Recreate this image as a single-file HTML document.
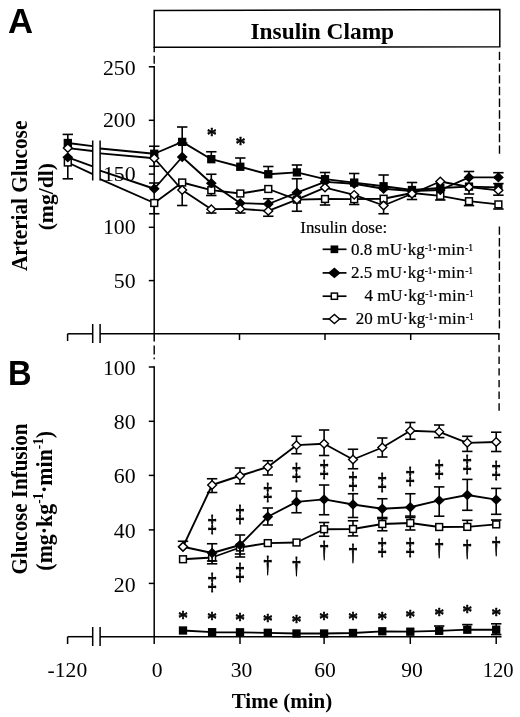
<!DOCTYPE html>
<html lang="en"><head><meta charset="utf-8"><title>Insulin Clamp figure</title>
<style>html,body{margin:0;padding:0;background:#fff}body{width:520px;height:717px;overflow:hidden}svg text{fill:#000}</style>
</head><body>
<svg width="520" height="717" viewBox="0 0 520 717" style="display:block">
<rect width="520" height="717" fill="#fff"/>
<path d="M154.2 10.6L499.8 9.6L499.8 46.8L154.2 47.3Z" fill="#fff" stroke="#000" stroke-width="1.5"/>
<text x="322.3" y="39.0" text-anchor="middle" font-family='"Liberation Serif", "DejaVu Serif", serif' font-weight="bold" font-size="23.4">Insulin Clamp</text>
<line x1="154.20" y1="47.00" x2="154.20" y2="52.30" stroke="#000" stroke-width="1.4" />
<line x1="154.20" y1="55.80" x2="154.20" y2="63.80" stroke="#000" stroke-width="1.4" />
<line x1="499.50" y1="51.70" x2="499.50" y2="154.60" stroke="#000" stroke-width="1.4" stroke-dasharray="8.4 3.32"/>
<line x1="499.40" y1="226.40" x2="499.40" y2="328.80" stroke="#000" stroke-width="1.4" stroke-dasharray="8.4 3.32"/>
<line x1="499.10" y1="344.80" x2="499.10" y2="410.80" stroke="#000" stroke-width="1.4" stroke-dasharray="7.4 4.3"/>
<line x1="154.20" y1="334.00" x2="154.20" y2="341.50" stroke="#000" stroke-width="1.5" />
<line x1="154.20" y1="345.40" x2="154.20" y2="354.60" stroke="#000" stroke-width="1.4" />
<line x1="154.20" y1="357.50" x2="154.20" y2="359.20" stroke="#000" stroke-width="1.4" />
<line x1="154.20" y1="66.10" x2="154.20" y2="333.80" stroke="#000" stroke-width="1.5" />
<line x1="148.80" y1="66.80" x2="154.20" y2="66.80" stroke="#000" stroke-width="1.5" />
<text transform="translate(135.6,74.8) scale(1.09,1)" text-anchor="end" font-family='"Liberation Serif", "DejaVu Serif", serif' font-size="20">250</text>
<line x1="148.80" y1="120.30" x2="154.20" y2="120.30" stroke="#000" stroke-width="1.5" />
<text transform="translate(135.6,127.0) scale(1.09,1)" text-anchor="end" font-family='"Liberation Serif", "DejaVu Serif", serif' font-size="20">200</text>
<line x1="148.80" y1="174.10" x2="154.20" y2="174.10" stroke="#000" stroke-width="1.5" />
<text transform="translate(135.6,180.6) scale(1.09,1)" text-anchor="end" font-family='"Liberation Serif", "DejaVu Serif", serif' font-size="20">150</text>
<line x1="148.80" y1="227.30" x2="154.20" y2="227.30" stroke="#000" stroke-width="1.5" />
<text transform="translate(135.6,233.7) scale(1.09,1)" text-anchor="end" font-family='"Liberation Serif", "DejaVu Serif", serif' font-size="20">100</text>
<line x1="148.80" y1="280.60" x2="154.20" y2="280.60" stroke="#000" stroke-width="1.5" />
<text transform="translate(135.6,287.6) scale(1.09,1)" text-anchor="end" font-family='"Liberation Serif", "DejaVu Serif", serif' font-size="20">50</text>
<line x1="67.60" y1="333.80" x2="92.70" y2="333.80" stroke="#000" stroke-width="1.5" />
<line x1="100.10" y1="333.80" x2="499.60" y2="333.80" stroke="#000" stroke-width="1.5" />
<line x1="67.60" y1="333.80" x2="67.60" y2="341.00" stroke="#000" stroke-width="1.5" />
<line x1="92.70" y1="324.00" x2="92.70" y2="343.00" stroke="#000" stroke-width="1.5" />
<line x1="100.10" y1="324.00" x2="100.10" y2="343.00" stroke="#000" stroke-width="1.5" />
<line x1="239.50" y1="333.80" x2="239.50" y2="340.00" stroke="#000" stroke-width="1.5" />
<line x1="325.00" y1="333.80" x2="325.00" y2="340.00" stroke="#000" stroke-width="1.5" />
<line x1="410.70" y1="333.80" x2="410.70" y2="340.00" stroke="#000" stroke-width="1.5" />
<line x1="498.90" y1="333.80" x2="498.90" y2="340.00" stroke="#000" stroke-width="1.5" />
<line x1="154.20" y1="366.30" x2="154.20" y2="636.70" stroke="#000" stroke-width="1.5" />
<line x1="148.80" y1="367.00" x2="154.20" y2="367.00" stroke="#000" stroke-width="1.5" />
<text transform="translate(135.6,374.8) scale(1.09,1)" text-anchor="end" font-family='"Liberation Serif", "DejaVu Serif", serif' font-size="20">100</text>
<line x1="148.80" y1="421.30" x2="154.20" y2="421.30" stroke="#000" stroke-width="1.5" />
<text transform="translate(135.6,428.7) scale(1.09,1)" text-anchor="end" font-family='"Liberation Serif", "DejaVu Serif", serif' font-size="20">80</text>
<line x1="148.80" y1="475.40" x2="154.20" y2="475.40" stroke="#000" stroke-width="1.5" />
<text transform="translate(135.6,483.0) scale(1.09,1)" text-anchor="end" font-family='"Liberation Serif", "DejaVu Serif", serif' font-size="20">60</text>
<line x1="148.80" y1="529.90" x2="154.20" y2="529.90" stroke="#000" stroke-width="1.5" />
<text transform="translate(135.6,537.6) scale(1.09,1)" text-anchor="end" font-family='"Liberation Serif", "DejaVu Serif", serif' font-size="20">40</text>
<line x1="148.80" y1="583.40" x2="154.20" y2="583.40" stroke="#000" stroke-width="1.5" />
<text transform="translate(135.6,592.1) scale(1.09,1)" text-anchor="end" font-family='"Liberation Serif", "DejaVu Serif", serif' font-size="20">20</text>
<line x1="67.60" y1="636.70" x2="92.70" y2="636.70" stroke="#000" stroke-width="1.5" />
<line x1="100.10" y1="636.70" x2="501.50" y2="636.70" stroke="#000" stroke-width="1.5" />
<line x1="67.60" y1="636.70" x2="67.60" y2="644.00" stroke="#000" stroke-width="1.5" />
<line x1="92.70" y1="627.00" x2="92.70" y2="646.00" stroke="#000" stroke-width="1.5" />
<line x1="100.10" y1="627.00" x2="100.10" y2="646.00" stroke="#000" stroke-width="1.5" />
<line x1="154.20" y1="636.70" x2="154.20" y2="644.00" stroke="#000" stroke-width="1.5" />
<line x1="240.00" y1="636.70" x2="240.00" y2="644.00" stroke="#000" stroke-width="1.5" />
<line x1="324.10" y1="636.70" x2="324.10" y2="644.00" stroke="#000" stroke-width="1.5" />
<line x1="410.30" y1="636.70" x2="410.30" y2="644.00" stroke="#000" stroke-width="1.5" />
<line x1="496.20" y1="636.70" x2="496.20" y2="644.00" stroke="#000" stroke-width="1.5" />
<text transform="translate(67.4,677.2) scale(1.08,1)" text-anchor="middle" font-family='"Liberation Serif", "DejaVu Serif", serif' font-size="20">-120</text>
<text transform="translate(157.2,677.2) scale(1.08,1)" text-anchor="middle" font-family='"Liberation Serif", "DejaVu Serif", serif' font-size="20">0</text>
<text transform="translate(241.6,677.2) scale(1.08,1)" text-anchor="middle" font-family='"Liberation Serif", "DejaVu Serif", serif' font-size="20">30</text>
<text transform="translate(325.1,677.2) scale(1.08,1)" text-anchor="middle" font-family='"Liberation Serif", "DejaVu Serif", serif' font-size="20">60</text>
<text transform="translate(412.1,677.2) scale(1.08,1)" text-anchor="middle" font-family='"Liberation Serif", "DejaVu Serif", serif' font-size="20">90</text>
<text transform="translate(498.2,677.2) scale(1.03,1)" text-anchor="middle" font-family='"Liberation Serif", "DejaVu Serif", serif' font-size="20">120</text>
<text x="282" y="707.5" text-anchor="middle" font-family='"Liberation Serif", "DejaVu Serif", serif' font-weight="bold" font-size="21">Time (min)</text>
<text transform="translate(27,195.9) rotate(-90) scale(1.012,1.07)" text-anchor="middle" font-family='"Liberation Serif", "DejaVu Serif", serif' font-weight="bold" font-size="21">Arterial Glucose</text>
<text transform="translate(52.7,196.7) rotate(-90) scale(1.03,1.02)" text-anchor="middle" font-family='"Liberation Serif", "DejaVu Serif", serif' font-weight="bold" font-size="21">(mg/dl)</text>
<text transform="translate(27,499) rotate(-90) scale(1,1.07)" text-anchor="middle" font-family='"Liberation Serif", "DejaVu Serif", serif' font-weight="bold" font-size="21">Glucose Infusion</text>
<text transform="translate(52,500.8) rotate(-90) scale(1.012,1.05)" text-anchor="middle" font-family='"Liberation Serif", "DejaVu Serif", serif' font-weight="bold" font-size="21.6">(mg·kg<tspan font-size="13" dy="-8.4">-1</tspan><tspan dy="8.4">·min</tspan><tspan font-size="13" dy="-8.4">-1</tspan><tspan dy="8.4">)</tspan></text>
<text transform="translate(8.0,33.3) scale(1.02,1.04)" font-family='"Liberation Sans", "DejaVu Sans", sans-serif' font-weight="bold" font-size="34">A</text>
<text transform="translate(7.9,384.8) scale(0.96,1.02)" font-family='"Liberation Sans", "DejaVu Sans", sans-serif' font-weight="bold" font-size="34">B</text>
<line x1="67.80" y1="143.00" x2="92.70" y2="146.10" stroke="#000" stroke-width="1.85" />
<line x1="100.10" y1="148.52" x2="154.25" y2="153.75" stroke="#000" stroke-width="1.85" />
<polyline points="154.25,153.75 182.20,141.90 211.30,159.20 240.30,166.75 268.30,174.25 296.90,172.40 325.00,179.20 354.20,182.60 383.60,186.25 412.00,190.00 440.30,188.00 469.00,186.60 498.40,187.30" fill="none" stroke="#000" stroke-width="1.85" stroke-linejoin="round"/>
<line x1="67.80" y1="143.00" x2="67.80" y2="134.40" stroke="#000" stroke-width="1.6" />
<line x1="62.60" y1="134.40" x2="73.00" y2="134.40" stroke="#000" stroke-width="1.6" />
<line x1="154.25" y1="153.75" x2="154.25" y2="146.25" stroke="#000" stroke-width="1.6" />
<line x1="149.05" y1="146.25" x2="159.45" y2="146.25" stroke="#000" stroke-width="1.6" />
<line x1="182.20" y1="141.90" x2="182.20" y2="127.00" stroke="#000" stroke-width="1.6" />
<line x1="177.00" y1="127.00" x2="187.40" y2="127.00" stroke="#000" stroke-width="1.6" />
<line x1="211.30" y1="159.20" x2="211.30" y2="151.75" stroke="#000" stroke-width="1.6" />
<line x1="206.10" y1="151.75" x2="216.50" y2="151.75" stroke="#000" stroke-width="1.6" />
<line x1="240.30" y1="166.75" x2="240.30" y2="158.00" stroke="#000" stroke-width="1.6" />
<line x1="235.10" y1="158.00" x2="245.50" y2="158.00" stroke="#000" stroke-width="1.6" />
<line x1="268.30" y1="174.25" x2="268.30" y2="166.50" stroke="#000" stroke-width="1.6" />
<line x1="263.10" y1="166.50" x2="273.50" y2="166.50" stroke="#000" stroke-width="1.6" />
<line x1="296.90" y1="172.40" x2="296.90" y2="165.00" stroke="#000" stroke-width="1.6" />
<line x1="291.70" y1="165.00" x2="302.10" y2="165.00" stroke="#000" stroke-width="1.6" />
<line x1="325.00" y1="179.20" x2="325.00" y2="172.50" stroke="#000" stroke-width="1.6" />
<line x1="319.80" y1="172.50" x2="330.20" y2="172.50" stroke="#000" stroke-width="1.6" />
<line x1="354.20" y1="182.60" x2="354.20" y2="173.50" stroke="#000" stroke-width="1.6" />
<line x1="349.00" y1="173.50" x2="359.40" y2="173.50" stroke="#000" stroke-width="1.6" />
<line x1="383.60" y1="186.25" x2="383.60" y2="175.00" stroke="#000" stroke-width="1.6" />
<line x1="378.40" y1="175.00" x2="388.80" y2="175.00" stroke="#000" stroke-width="1.6" />
<line x1="412.00" y1="190.00" x2="412.00" y2="182.50" stroke="#000" stroke-width="1.6" />
<line x1="406.80" y1="182.50" x2="417.20" y2="182.50" stroke="#000" stroke-width="1.6" />
<rect x="64.40" y="139.60" width="6.80" height="6.80" fill="#000" stroke="#000" stroke-width="1.5"/>
<rect x="150.85" y="150.35" width="6.80" height="6.80" fill="#000" stroke="#000" stroke-width="1.5"/>
<rect x="178.80" y="138.50" width="6.80" height="6.80" fill="#000" stroke="#000" stroke-width="1.5"/>
<rect x="207.90" y="155.80" width="6.80" height="6.80" fill="#000" stroke="#000" stroke-width="1.5"/>
<rect x="236.90" y="163.35" width="6.80" height="6.80" fill="#000" stroke="#000" stroke-width="1.5"/>
<rect x="264.90" y="170.85" width="6.80" height="6.80" fill="#000" stroke="#000" stroke-width="1.5"/>
<rect x="293.50" y="169.00" width="6.80" height="6.80" fill="#000" stroke="#000" stroke-width="1.5"/>
<rect x="321.60" y="175.80" width="6.80" height="6.80" fill="#000" stroke="#000" stroke-width="1.5"/>
<rect x="350.80" y="179.20" width="6.80" height="6.80" fill="#000" stroke="#000" stroke-width="1.5"/>
<rect x="380.20" y="182.85" width="6.80" height="6.80" fill="#000" stroke="#000" stroke-width="1.5"/>
<rect x="408.60" y="186.60" width="6.80" height="6.80" fill="#000" stroke="#000" stroke-width="1.5"/>
<rect x="436.90" y="184.60" width="6.80" height="6.80" fill="#000" stroke="#000" stroke-width="1.5"/>
<rect x="465.60" y="183.20" width="6.80" height="6.80" fill="#000" stroke="#000" stroke-width="1.5"/>
<rect x="495.00" y="183.90" width="6.80" height="6.80" fill="#000" stroke="#000" stroke-width="1.5"/>
<line x1="67.80" y1="162.50" x2="92.70" y2="174.17" stroke="#000" stroke-width="1.85" />
<line x1="100.10" y1="179.13" x2="154.25" y2="203.00" stroke="#000" stroke-width="1.85" />
<polyline points="154.25,203.00 182.20,182.50 211.30,190.20 240.30,193.50 268.30,189.00 296.90,199.60 325.00,199.00 354.20,199.20 383.60,198.75 412.00,193.00 440.30,195.80 469.00,201.20 498.40,204.40" fill="none" stroke="#000" stroke-width="1.85" stroke-linejoin="round"/>
<line x1="67.80" y1="162.50" x2="67.80" y2="178.80" stroke="#000" stroke-width="1.6" />
<line x1="62.60" y1="178.80" x2="73.00" y2="178.80" stroke="#000" stroke-width="1.6" />
<line x1="154.25" y1="203.00" x2="154.25" y2="213.75" stroke="#000" stroke-width="1.6" />
<line x1="149.05" y1="213.75" x2="159.45" y2="213.75" stroke="#000" stroke-width="1.6" />
<line x1="211.30" y1="190.20" x2="211.30" y2="195.50" stroke="#000" stroke-width="1.6" />
<line x1="206.10" y1="195.50" x2="216.50" y2="195.50" stroke="#000" stroke-width="1.6" />
<line x1="325.00" y1="199.00" x2="325.00" y2="205.00" stroke="#000" stroke-width="1.6" />
<line x1="319.80" y1="205.00" x2="330.20" y2="205.00" stroke="#000" stroke-width="1.6" />
<line x1="354.20" y1="199.20" x2="354.20" y2="204.50" stroke="#000" stroke-width="1.6" />
<line x1="349.00" y1="204.50" x2="359.40" y2="204.50" stroke="#000" stroke-width="1.6" />
<line x1="440.30" y1="195.80" x2="440.30" y2="200.00" stroke="#000" stroke-width="1.6" />
<line x1="435.10" y1="200.00" x2="445.50" y2="200.00" stroke="#000" stroke-width="1.6" />
<line x1="469.00" y1="201.20" x2="469.00" y2="205.60" stroke="#000" stroke-width="1.6" />
<line x1="463.80" y1="205.60" x2="474.20" y2="205.60" stroke="#000" stroke-width="1.6" />
<line x1="498.40" y1="204.40" x2="498.40" y2="209.00" stroke="#000" stroke-width="1.6" />
<line x1="493.20" y1="209.00" x2="503.60" y2="209.00" stroke="#000" stroke-width="1.6" />
<rect x="64.40" y="159.10" width="6.80" height="6.80" fill="#fff" stroke="#000" stroke-width="1.5"/>
<rect x="150.85" y="199.60" width="6.80" height="6.80" fill="#fff" stroke="#000" stroke-width="1.5"/>
<rect x="178.80" y="179.10" width="6.80" height="6.80" fill="#fff" stroke="#000" stroke-width="1.5"/>
<rect x="207.90" y="186.80" width="6.80" height="6.80" fill="#fff" stroke="#000" stroke-width="1.5"/>
<rect x="236.90" y="190.10" width="6.80" height="6.80" fill="#fff" stroke="#000" stroke-width="1.5"/>
<rect x="264.90" y="185.60" width="6.80" height="6.80" fill="#fff" stroke="#000" stroke-width="1.5"/>
<rect x="293.50" y="196.20" width="6.80" height="6.80" fill="#fff" stroke="#000" stroke-width="1.5"/>
<rect x="321.60" y="195.60" width="6.80" height="6.80" fill="#fff" stroke="#000" stroke-width="1.5"/>
<rect x="350.80" y="195.80" width="6.80" height="6.80" fill="#fff" stroke="#000" stroke-width="1.5"/>
<rect x="380.20" y="195.35" width="6.80" height="6.80" fill="#fff" stroke="#000" stroke-width="1.5"/>
<rect x="408.60" y="189.60" width="6.80" height="6.80" fill="#fff" stroke="#000" stroke-width="1.5"/>
<rect x="436.90" y="192.40" width="6.80" height="6.80" fill="#fff" stroke="#000" stroke-width="1.5"/>
<rect x="465.60" y="197.80" width="6.80" height="6.80" fill="#fff" stroke="#000" stroke-width="1.5"/>
<rect x="495.00" y="201.00" width="6.80" height="6.80" fill="#fff" stroke="#000" stroke-width="1.5"/>
<line x1="67.80" y1="157.30" x2="92.70" y2="166.36" stroke="#000" stroke-width="1.85" />
<line x1="100.10" y1="170.55" x2="154.25" y2="188.75" stroke="#000" stroke-width="1.85" />
<polyline points="154.25,188.75 182.20,157.00 211.30,183.20 240.30,203.20 268.30,204.00 296.90,192.60 325.00,181.80 354.20,183.75 383.60,188.75 412.00,191.00 440.30,190.00 469.00,177.40 498.40,177.40" fill="none" stroke="#000" stroke-width="1.85" stroke-linejoin="round"/>
<line x1="154.25" y1="188.75" x2="154.25" y2="183.00" stroke="#000" stroke-width="1.6" />
<line x1="149.05" y1="183.00" x2="159.45" y2="183.00" stroke="#000" stroke-width="1.6" />
<line x1="182.20" y1="157.00" x2="182.20" y2="143.00" stroke="#000" stroke-width="1.6" />
<line x1="177.00" y1="143.00" x2="187.40" y2="143.00" stroke="#000" stroke-width="1.6" />
<line x1="211.30" y1="183.20" x2="211.30" y2="174.25" stroke="#000" stroke-width="1.6" />
<line x1="206.10" y1="174.25" x2="216.50" y2="174.25" stroke="#000" stroke-width="1.6" />
<line x1="268.30" y1="204.00" x2="268.30" y2="198.75" stroke="#000" stroke-width="1.6" />
<line x1="263.10" y1="198.75" x2="273.50" y2="198.75" stroke="#000" stroke-width="1.6" />
<line x1="296.90" y1="192.60" x2="296.90" y2="178.75" stroke="#000" stroke-width="1.6" />
<line x1="291.70" y1="178.75" x2="302.10" y2="178.75" stroke="#000" stroke-width="1.6" />
<line x1="469.00" y1="177.40" x2="469.00" y2="171.50" stroke="#000" stroke-width="1.6" />
<line x1="463.80" y1="171.50" x2="474.20" y2="171.50" stroke="#000" stroke-width="1.6" />
<line x1="498.40" y1="177.40" x2="498.40" y2="172.70" stroke="#000" stroke-width="1.6" />
<line x1="493.20" y1="172.70" x2="503.60" y2="172.70" stroke="#000" stroke-width="1.6" />
<path d="M63.40 157.30L67.80 153.10L72.20 157.30L67.80 161.50Z" fill="#000" stroke="#000" stroke-width="1.4" stroke-linejoin="miter"/>
<path d="M149.85 188.75L154.25 184.55L158.65 188.75L154.25 192.95Z" fill="#000" stroke="#000" stroke-width="1.4" stroke-linejoin="miter"/>
<path d="M177.80 157.00L182.20 152.80L186.60 157.00L182.20 161.20Z" fill="#000" stroke="#000" stroke-width="1.4" stroke-linejoin="miter"/>
<path d="M206.90 183.20L211.30 179.00L215.70 183.20L211.30 187.40Z" fill="#000" stroke="#000" stroke-width="1.4" stroke-linejoin="miter"/>
<path d="M235.90 203.20L240.30 199.00L244.70 203.20L240.30 207.40Z" fill="#000" stroke="#000" stroke-width="1.4" stroke-linejoin="miter"/>
<path d="M263.90 204.00L268.30 199.80L272.70 204.00L268.30 208.20Z" fill="#000" stroke="#000" stroke-width="1.4" stroke-linejoin="miter"/>
<path d="M292.50 192.60L296.90 188.40L301.30 192.60L296.90 196.80Z" fill="#000" stroke="#000" stroke-width="1.4" stroke-linejoin="miter"/>
<path d="M320.60 181.80L325.00 177.60L329.40 181.80L325.00 186.00Z" fill="#000" stroke="#000" stroke-width="1.4" stroke-linejoin="miter"/>
<path d="M349.80 183.75L354.20 179.55L358.60 183.75L354.20 187.95Z" fill="#000" stroke="#000" stroke-width="1.4" stroke-linejoin="miter"/>
<path d="M379.20 188.75L383.60 184.55L388.00 188.75L383.60 192.95Z" fill="#000" stroke="#000" stroke-width="1.4" stroke-linejoin="miter"/>
<path d="M407.60 191.00L412.00 186.80L416.40 191.00L412.00 195.20Z" fill="#000" stroke="#000" stroke-width="1.4" stroke-linejoin="miter"/>
<path d="M435.90 190.00L440.30 185.80L444.70 190.00L440.30 194.20Z" fill="#000" stroke="#000" stroke-width="1.4" stroke-linejoin="miter"/>
<path d="M464.60 177.40L469.00 173.20L473.40 177.40L469.00 181.60Z" fill="#000" stroke="#000" stroke-width="1.4" stroke-linejoin="miter"/>
<path d="M494.00 177.40L498.40 173.20L502.80 177.40L498.40 181.60Z" fill="#000" stroke="#000" stroke-width="1.4" stroke-linejoin="miter"/>
<line x1="67.80" y1="148.10" x2="92.70" y2="151.02" stroke="#000" stroke-width="1.85" />
<line x1="100.10" y1="153.39" x2="154.25" y2="158.25" stroke="#000" stroke-width="1.85" />
<polyline points="154.25,158.25 182.20,190.00 211.30,209.20 240.30,208.90 268.30,210.90 296.90,199.60 325.00,187.60 354.20,194.80 383.60,205.50 412.00,193.75 440.30,181.50 469.00,187.00 498.40,190.30" fill="none" stroke="#000" stroke-width="1.85" stroke-linejoin="round"/>
<line x1="154.25" y1="158.25" x2="154.25" y2="166.25" stroke="#000" stroke-width="1.6" />
<line x1="149.05" y1="166.25" x2="159.45" y2="166.25" stroke="#000" stroke-width="1.6" />
<line x1="182.20" y1="190.00" x2="182.20" y2="205.50" stroke="#000" stroke-width="1.6" />
<line x1="177.00" y1="205.50" x2="187.40" y2="205.50" stroke="#000" stroke-width="1.6" />
<line x1="211.30" y1="209.20" x2="211.30" y2="213.00" stroke="#000" stroke-width="1.6" />
<line x1="206.10" y1="213.00" x2="216.50" y2="213.00" stroke="#000" stroke-width="1.6" />
<line x1="240.30" y1="208.90" x2="240.30" y2="213.00" stroke="#000" stroke-width="1.6" />
<line x1="235.10" y1="213.00" x2="245.50" y2="213.00" stroke="#000" stroke-width="1.6" />
<line x1="268.30" y1="210.90" x2="268.30" y2="216.25" stroke="#000" stroke-width="1.6" />
<line x1="263.10" y1="216.25" x2="273.50" y2="216.25" stroke="#000" stroke-width="1.6" />
<line x1="296.90" y1="199.60" x2="296.90" y2="211.25" stroke="#000" stroke-width="1.6" />
<line x1="291.70" y1="211.25" x2="302.10" y2="211.25" stroke="#000" stroke-width="1.6" />
<line x1="383.60" y1="205.50" x2="383.60" y2="213.75" stroke="#000" stroke-width="1.6" />
<line x1="378.40" y1="213.75" x2="388.80" y2="213.75" stroke="#000" stroke-width="1.6" />
<line x1="412.00" y1="193.75" x2="412.00" y2="199.50" stroke="#000" stroke-width="1.6" />
<line x1="406.80" y1="199.50" x2="417.20" y2="199.50" stroke="#000" stroke-width="1.6" />
<line x1="469.00" y1="187.00" x2="469.00" y2="194.00" stroke="#000" stroke-width="1.6" />
<line x1="463.80" y1="194.00" x2="474.20" y2="194.00" stroke="#000" stroke-width="1.6" />
<line x1="498.40" y1="190.30" x2="498.40" y2="183.60" stroke="#000" stroke-width="1.6" />
<line x1="493.20" y1="183.60" x2="503.60" y2="183.60" stroke="#000" stroke-width="1.6" />
<line x1="498.40" y1="190.30" x2="498.40" y2="195.20" stroke="#000" stroke-width="1.6" />
<line x1="493.20" y1="195.20" x2="503.60" y2="195.20" stroke="#000" stroke-width="1.6" />
<path d="M63.40 148.10L67.80 143.90L72.20 148.10L67.80 152.30Z" fill="#fff" stroke="#000" stroke-width="1.4" stroke-linejoin="miter"/>
<path d="M149.85 158.25L154.25 154.05L158.65 158.25L154.25 162.45Z" fill="#fff" stroke="#000" stroke-width="1.4" stroke-linejoin="miter"/>
<path d="M177.80 190.00L182.20 185.80L186.60 190.00L182.20 194.20Z" fill="#fff" stroke="#000" stroke-width="1.4" stroke-linejoin="miter"/>
<path d="M206.90 209.20L211.30 205.00L215.70 209.20L211.30 213.40Z" fill="#fff" stroke="#000" stroke-width="1.4" stroke-linejoin="miter"/>
<path d="M235.90 208.90L240.30 204.70L244.70 208.90L240.30 213.10Z" fill="#fff" stroke="#000" stroke-width="1.4" stroke-linejoin="miter"/>
<path d="M263.90 210.90L268.30 206.70L272.70 210.90L268.30 215.10Z" fill="#fff" stroke="#000" stroke-width="1.4" stroke-linejoin="miter"/>
<path d="M292.50 199.60L296.90 195.40L301.30 199.60L296.90 203.80Z" fill="#fff" stroke="#000" stroke-width="1.4" stroke-linejoin="miter"/>
<path d="M320.60 187.60L325.00 183.40L329.40 187.60L325.00 191.80Z" fill="#fff" stroke="#000" stroke-width="1.4" stroke-linejoin="miter"/>
<path d="M349.80 194.80L354.20 190.60L358.60 194.80L354.20 199.00Z" fill="#fff" stroke="#000" stroke-width="1.4" stroke-linejoin="miter"/>
<path d="M379.20 205.50L383.60 201.30L388.00 205.50L383.60 209.70Z" fill="#fff" stroke="#000" stroke-width="1.4" stroke-linejoin="miter"/>
<path d="M407.60 193.75L412.00 189.55L416.40 193.75L412.00 197.95Z" fill="#fff" stroke="#000" stroke-width="1.4" stroke-linejoin="miter"/>
<path d="M435.90 181.50L440.30 177.30L444.70 181.50L440.30 185.70Z" fill="#fff" stroke="#000" stroke-width="1.4" stroke-linejoin="miter"/>
<path d="M464.60 187.00L469.00 182.80L473.40 187.00L469.00 191.20Z" fill="#fff" stroke="#000" stroke-width="1.4" stroke-linejoin="miter"/>
<path d="M494.00 190.30L498.40 186.10L502.80 190.30L498.40 194.50Z" fill="#fff" stroke="#000" stroke-width="1.4" stroke-linejoin="miter"/>
<line x1="92.70" y1="140.50" x2="92.70" y2="180.50" stroke="#000" stroke-width="1.5" />
<line x1="100.10" y1="140.50" x2="100.10" y2="180.50" stroke="#000" stroke-width="1.5" />
<text x="211.8" y="142.1" text-anchor="middle" font-family='"Liberation Serif", "DejaVu Serif", serif' font-size="20" stroke="#000" stroke-width="0.7" stroke-linejoin="round">*</text>
<text x="240.5" y="150.8" text-anchor="middle" font-family='"Liberation Serif", "DejaVu Serif", serif' font-size="20" stroke="#000" stroke-width="0.7" stroke-linejoin="round">*</text>
<text x="300.3" y="233.3" font-family='"Liberation Serif", "DejaVu Serif", serif' font-size="16.9" stroke="#000" stroke-width="0.2">Insulin dose:</text>
<line x1="322.60" y1="249.30" x2="346.50" y2="249.30" stroke="#000" stroke-width="1.7" />
<rect x="331.30" y="246.20" width="6.20" height="6.20" fill="#000" stroke="#000" stroke-width="1.5"/>
<text x="351" y="255.0" font-family='"Liberation Serif", "DejaVu Serif", serif' font-size="17" stroke="#000" stroke-width="0.2">0.8 mU·kg<tspan font-size="9.6" dy="-4.2">-1</tspan><tspan dy="4.2" dx="-0.8" letter-spacing="0.3">·min</tspan><tspan font-size="9.6" dy="-4.2">-1</tspan></text>
<line x1="322.60" y1="272.90" x2="346.50" y2="272.90" stroke="#000" stroke-width="1.7" />
<path d="M329.20 272.90L334.40 268.40L339.60 272.90L334.40 277.40Z" fill="#000" stroke="#000" stroke-width="1.4" stroke-linejoin="miter"/>
<text x="351" y="277.9" font-family='"Liberation Serif", "DejaVu Serif", serif' font-size="17" stroke="#000" stroke-width="0.2">2.5 mU·kg<tspan font-size="9.6" dy="-4.2">-1</tspan><tspan dy="4.2" dx="-0.8" letter-spacing="0.3">·min</tspan><tspan font-size="9.6" dy="-4.2">-1</tspan></text>
<line x1="322.60" y1="296.20" x2="346.50" y2="296.20" stroke="#000" stroke-width="1.7" />
<rect x="331.30" y="293.10" width="6.20" height="6.20" fill="#fff" stroke="#000" stroke-width="1.5"/>
<text x="364.4" y="301.2" font-family='"Liberation Serif", "DejaVu Serif", serif' font-size="17" stroke="#000" stroke-width="0.2">4 mU·kg<tspan font-size="9.6" dy="-4.2">-1</tspan><tspan dy="4.2" dx="-0.8" letter-spacing="0.3">·min</tspan><tspan font-size="9.6" dy="-4.2">-1</tspan></text>
<line x1="322.60" y1="319.00" x2="346.50" y2="319.00" stroke="#000" stroke-width="1.7" />
<path d="M329.20 319.00L334.40 314.50L339.60 319.00L334.40 323.50Z" fill="#fff" stroke="#000" stroke-width="1.4" stroke-linejoin="miter"/>
<text x="355.8" y="324.0" font-family='"Liberation Serif", "DejaVu Serif", serif' font-size="17" stroke="#000" stroke-width="0.2">20 mU·kg<tspan font-size="9.6" dy="-4.2">-1</tspan><tspan dy="4.2" dx="-0.8" letter-spacing="0.3">·min</tspan><tspan font-size="9.6" dy="-4.2">-1</tspan></text>
<polyline points="183.00,630.50 212.10,632.20 240.00,632.30 267.80,632.80 296.50,633.50 324.10,633.50 353.00,633.00 382.30,631.30 410.30,631.70 439.20,630.80 467.30,629.70 496.20,629.70" fill="none" stroke="#000" stroke-width="1.85" stroke-linejoin="round"/>
<line x1="439.20" y1="630.80" x2="439.20" y2="626.00" stroke="#000" stroke-width="1.6" />
<line x1="434.00" y1="626.00" x2="444.40" y2="626.00" stroke="#000" stroke-width="1.6" />
<line x1="467.30" y1="629.70" x2="467.30" y2="624.60" stroke="#000" stroke-width="1.6" />
<line x1="462.10" y1="624.60" x2="472.50" y2="624.60" stroke="#000" stroke-width="1.6" />
<line x1="496.20" y1="629.70" x2="496.20" y2="623.80" stroke="#000" stroke-width="1.6" />
<line x1="491.00" y1="623.80" x2="501.40" y2="623.80" stroke="#000" stroke-width="1.6" />
<line x1="496.20" y1="629.70" x2="496.20" y2="634.60" stroke="#000" stroke-width="1.6" />
<line x1="491.00" y1="634.60" x2="501.40" y2="634.60" stroke="#000" stroke-width="1.6" />
<rect x="179.60" y="627.10" width="6.80" height="6.80" fill="#000" stroke="#000" stroke-width="1.5"/>
<rect x="208.70" y="628.80" width="6.80" height="6.80" fill="#000" stroke="#000" stroke-width="1.5"/>
<rect x="236.60" y="628.90" width="6.80" height="6.80" fill="#000" stroke="#000" stroke-width="1.5"/>
<rect x="264.40" y="629.40" width="6.80" height="6.80" fill="#000" stroke="#000" stroke-width="1.5"/>
<rect x="293.10" y="630.10" width="6.80" height="6.80" fill="#000" stroke="#000" stroke-width="1.5"/>
<rect x="320.70" y="630.10" width="6.80" height="6.80" fill="#000" stroke="#000" stroke-width="1.5"/>
<rect x="349.60" y="629.60" width="6.80" height="6.80" fill="#000" stroke="#000" stroke-width="1.5"/>
<rect x="378.90" y="627.90" width="6.80" height="6.80" fill="#000" stroke="#000" stroke-width="1.5"/>
<rect x="406.90" y="628.30" width="6.80" height="6.80" fill="#000" stroke="#000" stroke-width="1.5"/>
<rect x="435.80" y="627.40" width="6.80" height="6.80" fill="#000" stroke="#000" stroke-width="1.5"/>
<rect x="463.90" y="626.30" width="6.80" height="6.80" fill="#000" stroke="#000" stroke-width="1.5"/>
<rect x="492.80" y="626.30" width="6.80" height="6.80" fill="#000" stroke="#000" stroke-width="1.5"/>
<polyline points="183.00,559.25 212.10,557.50 240.00,547.50 267.80,543.10 296.50,542.50 324.10,529.25 353.00,529.00 382.30,524.00 410.30,523.00 439.20,527.00 467.30,526.90 496.20,524.40" fill="none" stroke="#000" stroke-width="1.85" stroke-linejoin="round"/>
<line x1="212.10" y1="557.50" x2="212.10" y2="563.80" stroke="#000" stroke-width="1.6" />
<line x1="206.90" y1="563.80" x2="217.30" y2="563.80" stroke="#000" stroke-width="1.6" />
<line x1="240.00" y1="547.50" x2="240.00" y2="557.00" stroke="#000" stroke-width="1.6" />
<line x1="234.80" y1="557.00" x2="245.20" y2="557.00" stroke="#000" stroke-width="1.6" />
<line x1="324.10" y1="529.25" x2="324.10" y2="522.50" stroke="#000" stroke-width="1.6" />
<line x1="318.90" y1="522.50" x2="329.30" y2="522.50" stroke="#000" stroke-width="1.6" />
<line x1="324.10" y1="529.25" x2="324.10" y2="536.25" stroke="#000" stroke-width="1.6" />
<line x1="318.90" y1="536.25" x2="329.30" y2="536.25" stroke="#000" stroke-width="1.6" />
<line x1="353.00" y1="529.00" x2="353.00" y2="520.80" stroke="#000" stroke-width="1.6" />
<line x1="347.80" y1="520.80" x2="358.20" y2="520.80" stroke="#000" stroke-width="1.6" />
<line x1="353.00" y1="529.00" x2="353.00" y2="535.90" stroke="#000" stroke-width="1.6" />
<line x1="347.80" y1="535.90" x2="358.20" y2="535.90" stroke="#000" stroke-width="1.6" />
<line x1="382.30" y1="524.00" x2="382.30" y2="518.75" stroke="#000" stroke-width="1.6" />
<line x1="377.10" y1="518.75" x2="387.50" y2="518.75" stroke="#000" stroke-width="1.6" />
<line x1="382.30" y1="524.00" x2="382.30" y2="530.75" stroke="#000" stroke-width="1.6" />
<line x1="377.10" y1="530.75" x2="387.50" y2="530.75" stroke="#000" stroke-width="1.6" />
<line x1="410.30" y1="523.00" x2="410.30" y2="517.50" stroke="#000" stroke-width="1.6" />
<line x1="405.10" y1="517.50" x2="415.50" y2="517.50" stroke="#000" stroke-width="1.6" />
<line x1="410.30" y1="523.00" x2="410.30" y2="530.00" stroke="#000" stroke-width="1.6" />
<line x1="405.10" y1="530.00" x2="415.50" y2="530.00" stroke="#000" stroke-width="1.6" />
<line x1="467.30" y1="526.90" x2="467.30" y2="520.30" stroke="#000" stroke-width="1.6" />
<line x1="462.10" y1="520.30" x2="472.50" y2="520.30" stroke="#000" stroke-width="1.6" />
<line x1="496.20" y1="524.40" x2="496.20" y2="520.00" stroke="#000" stroke-width="1.6" />
<line x1="491.00" y1="520.00" x2="501.40" y2="520.00" stroke="#000" stroke-width="1.6" />
<rect x="179.60" y="555.85" width="6.80" height="6.80" fill="#fff" stroke="#000" stroke-width="1.5"/>
<rect x="208.70" y="554.10" width="6.80" height="6.80" fill="#fff" stroke="#000" stroke-width="1.5"/>
<rect x="236.60" y="544.10" width="6.80" height="6.80" fill="#fff" stroke="#000" stroke-width="1.5"/>
<rect x="264.40" y="539.70" width="6.80" height="6.80" fill="#fff" stroke="#000" stroke-width="1.5"/>
<rect x="293.10" y="539.10" width="6.80" height="6.80" fill="#fff" stroke="#000" stroke-width="1.5"/>
<rect x="320.70" y="525.85" width="6.80" height="6.80" fill="#fff" stroke="#000" stroke-width="1.5"/>
<rect x="349.60" y="525.60" width="6.80" height="6.80" fill="#fff" stroke="#000" stroke-width="1.5"/>
<rect x="378.90" y="520.60" width="6.80" height="6.80" fill="#fff" stroke="#000" stroke-width="1.5"/>
<rect x="406.90" y="519.60" width="6.80" height="6.80" fill="#fff" stroke="#000" stroke-width="1.5"/>
<rect x="435.80" y="523.60" width="6.80" height="6.80" fill="#fff" stroke="#000" stroke-width="1.5"/>
<rect x="463.90" y="523.50" width="6.80" height="6.80" fill="#fff" stroke="#000" stroke-width="1.5"/>
<rect x="492.80" y="521.00" width="6.80" height="6.80" fill="#fff" stroke="#000" stroke-width="1.5"/>
<polyline points="183.00,546.75 212.10,553.00 240.00,545.00 267.80,516.75 296.50,501.90 324.10,499.40 353.00,504.50 382.30,508.75 410.30,507.25 439.20,500.40 467.30,495.00 496.20,499.70" fill="none" stroke="#000" stroke-width="1.85" stroke-linejoin="round"/>
<line x1="212.10" y1="553.00" x2="212.10" y2="543.75" stroke="#000" stroke-width="1.6" />
<line x1="206.90" y1="543.75" x2="217.30" y2="543.75" stroke="#000" stroke-width="1.6" />
<line x1="212.10" y1="553.00" x2="212.10" y2="561.00" stroke="#000" stroke-width="1.6" />
<line x1="206.90" y1="561.00" x2="217.30" y2="561.00" stroke="#000" stroke-width="1.6" />
<line x1="240.00" y1="545.00" x2="240.00" y2="535.00" stroke="#000" stroke-width="1.6" />
<line x1="234.80" y1="535.00" x2="245.20" y2="535.00" stroke="#000" stroke-width="1.6" />
<line x1="240.00" y1="545.00" x2="240.00" y2="554.00" stroke="#000" stroke-width="1.6" />
<line x1="234.80" y1="554.00" x2="245.20" y2="554.00" stroke="#000" stroke-width="1.6" />
<line x1="267.80" y1="516.75" x2="267.80" y2="508.00" stroke="#000" stroke-width="1.6" />
<line x1="262.60" y1="508.00" x2="273.00" y2="508.00" stroke="#000" stroke-width="1.6" />
<line x1="267.80" y1="516.75" x2="267.80" y2="525.00" stroke="#000" stroke-width="1.6" />
<line x1="262.60" y1="525.00" x2="273.00" y2="525.00" stroke="#000" stroke-width="1.6" />
<line x1="296.50" y1="501.90" x2="296.50" y2="491.00" stroke="#000" stroke-width="1.6" />
<line x1="291.30" y1="491.00" x2="301.70" y2="491.00" stroke="#000" stroke-width="1.6" />
<line x1="296.50" y1="501.90" x2="296.50" y2="512.75" stroke="#000" stroke-width="1.6" />
<line x1="291.30" y1="512.75" x2="301.70" y2="512.75" stroke="#000" stroke-width="1.6" />
<line x1="324.10" y1="499.40" x2="324.10" y2="485.00" stroke="#000" stroke-width="1.6" />
<line x1="318.90" y1="485.00" x2="329.30" y2="485.00" stroke="#000" stroke-width="1.6" />
<line x1="324.10" y1="499.40" x2="324.10" y2="514.75" stroke="#000" stroke-width="1.6" />
<line x1="318.90" y1="514.75" x2="329.30" y2="514.75" stroke="#000" stroke-width="1.6" />
<line x1="353.00" y1="504.50" x2="353.00" y2="493.75" stroke="#000" stroke-width="1.6" />
<line x1="347.80" y1="493.75" x2="358.20" y2="493.75" stroke="#000" stroke-width="1.6" />
<line x1="353.00" y1="504.50" x2="353.00" y2="517.50" stroke="#000" stroke-width="1.6" />
<line x1="347.80" y1="517.50" x2="358.20" y2="517.50" stroke="#000" stroke-width="1.6" />
<line x1="382.30" y1="508.75" x2="382.30" y2="498.75" stroke="#000" stroke-width="1.6" />
<line x1="377.10" y1="498.75" x2="387.50" y2="498.75" stroke="#000" stroke-width="1.6" />
<line x1="382.30" y1="508.75" x2="382.30" y2="517.50" stroke="#000" stroke-width="1.6" />
<line x1="377.10" y1="517.50" x2="387.50" y2="517.50" stroke="#000" stroke-width="1.6" />
<line x1="410.30" y1="507.25" x2="410.30" y2="493.75" stroke="#000" stroke-width="1.6" />
<line x1="405.10" y1="493.75" x2="415.50" y2="493.75" stroke="#000" stroke-width="1.6" />
<line x1="410.30" y1="507.25" x2="410.30" y2="516.10" stroke="#000" stroke-width="1.6" />
<line x1="405.10" y1="516.10" x2="415.50" y2="516.10" stroke="#000" stroke-width="1.6" />
<line x1="439.20" y1="500.40" x2="439.20" y2="486.90" stroke="#000" stroke-width="1.6" />
<line x1="434.00" y1="486.90" x2="444.40" y2="486.90" stroke="#000" stroke-width="1.6" />
<line x1="439.20" y1="500.40" x2="439.20" y2="516.20" stroke="#000" stroke-width="1.6" />
<line x1="434.00" y1="516.20" x2="444.40" y2="516.20" stroke="#000" stroke-width="1.6" />
<line x1="467.30" y1="495.00" x2="467.30" y2="479.40" stroke="#000" stroke-width="1.6" />
<line x1="462.10" y1="479.40" x2="472.50" y2="479.40" stroke="#000" stroke-width="1.6" />
<line x1="467.30" y1="495.00" x2="467.30" y2="510.30" stroke="#000" stroke-width="1.6" />
<line x1="462.10" y1="510.30" x2="472.50" y2="510.30" stroke="#000" stroke-width="1.6" />
<line x1="496.20" y1="499.70" x2="496.20" y2="488.40" stroke="#000" stroke-width="1.6" />
<line x1="491.00" y1="488.40" x2="501.40" y2="488.40" stroke="#000" stroke-width="1.6" />
<line x1="496.20" y1="499.70" x2="496.20" y2="514.30" stroke="#000" stroke-width="1.6" />
<line x1="491.00" y1="514.30" x2="501.40" y2="514.30" stroke="#000" stroke-width="1.6" />
<path d="M178.60 546.75L183.00 542.55L187.40 546.75L183.00 550.95Z" fill="#000" stroke="#000" stroke-width="1.4" stroke-linejoin="miter"/>
<path d="M207.70 553.00L212.10 548.80L216.50 553.00L212.10 557.20Z" fill="#000" stroke="#000" stroke-width="1.4" stroke-linejoin="miter"/>
<path d="M235.60 545.00L240.00 540.80L244.40 545.00L240.00 549.20Z" fill="#000" stroke="#000" stroke-width="1.4" stroke-linejoin="miter"/>
<path d="M263.40 516.75L267.80 512.55L272.20 516.75L267.80 520.95Z" fill="#000" stroke="#000" stroke-width="1.4" stroke-linejoin="miter"/>
<path d="M292.10 501.90L296.50 497.70L300.90 501.90L296.50 506.10Z" fill="#000" stroke="#000" stroke-width="1.4" stroke-linejoin="miter"/>
<path d="M319.70 499.40L324.10 495.20L328.50 499.40L324.10 503.60Z" fill="#000" stroke="#000" stroke-width="1.4" stroke-linejoin="miter"/>
<path d="M348.60 504.50L353.00 500.30L357.40 504.50L353.00 508.70Z" fill="#000" stroke="#000" stroke-width="1.4" stroke-linejoin="miter"/>
<path d="M377.90 508.75L382.30 504.55L386.70 508.75L382.30 512.95Z" fill="#000" stroke="#000" stroke-width="1.4" stroke-linejoin="miter"/>
<path d="M405.90 507.25L410.30 503.05L414.70 507.25L410.30 511.45Z" fill="#000" stroke="#000" stroke-width="1.4" stroke-linejoin="miter"/>
<path d="M434.80 500.40L439.20 496.20L443.60 500.40L439.20 504.60Z" fill="#000" stroke="#000" stroke-width="1.4" stroke-linejoin="miter"/>
<path d="M462.90 495.00L467.30 490.80L471.70 495.00L467.30 499.20Z" fill="#000" stroke="#000" stroke-width="1.4" stroke-linejoin="miter"/>
<path d="M491.80 499.70L496.20 495.50L500.60 499.70L496.20 503.90Z" fill="#000" stroke="#000" stroke-width="1.4" stroke-linejoin="miter"/>
<polyline points="183.00,546.75 212.10,485.00 240.00,475.75 267.80,467.00 296.50,445.20 324.10,443.75 353.00,459.50 382.30,447.50 410.30,430.75 439.20,431.80 467.30,442.80 496.20,442.00" fill="none" stroke="#000" stroke-width="1.85" stroke-linejoin="round"/>
<line x1="183.00" y1="546.75" x2="183.00" y2="541.25" stroke="#000" stroke-width="1.6" />
<line x1="177.80" y1="541.25" x2="188.20" y2="541.25" stroke="#000" stroke-width="1.6" />
<line x1="212.10" y1="485.00" x2="212.10" y2="478.75" stroke="#000" stroke-width="1.6" />
<line x1="206.90" y1="478.75" x2="217.30" y2="478.75" stroke="#000" stroke-width="1.6" />
<line x1="212.10" y1="485.00" x2="212.10" y2="492.50" stroke="#000" stroke-width="1.6" />
<line x1="206.90" y1="492.50" x2="217.30" y2="492.50" stroke="#000" stroke-width="1.6" />
<line x1="240.00" y1="475.75" x2="240.00" y2="468.00" stroke="#000" stroke-width="1.6" />
<line x1="234.80" y1="468.00" x2="245.20" y2="468.00" stroke="#000" stroke-width="1.6" />
<line x1="240.00" y1="475.75" x2="240.00" y2="483.75" stroke="#000" stroke-width="1.6" />
<line x1="234.80" y1="483.75" x2="245.20" y2="483.75" stroke="#000" stroke-width="1.6" />
<line x1="267.80" y1="467.00" x2="267.80" y2="460.75" stroke="#000" stroke-width="1.6" />
<line x1="262.60" y1="460.75" x2="273.00" y2="460.75" stroke="#000" stroke-width="1.6" />
<line x1="267.80" y1="467.00" x2="267.80" y2="475.00" stroke="#000" stroke-width="1.6" />
<line x1="262.60" y1="475.00" x2="273.00" y2="475.00" stroke="#000" stroke-width="1.6" />
<line x1="296.50" y1="445.20" x2="296.50" y2="436.25" stroke="#000" stroke-width="1.6" />
<line x1="291.30" y1="436.25" x2="301.70" y2="436.25" stroke="#000" stroke-width="1.6" />
<line x1="296.50" y1="445.20" x2="296.50" y2="453.75" stroke="#000" stroke-width="1.6" />
<line x1="291.30" y1="453.75" x2="301.70" y2="453.75" stroke="#000" stroke-width="1.6" />
<line x1="324.10" y1="443.75" x2="324.10" y2="430.00" stroke="#000" stroke-width="1.6" />
<line x1="318.90" y1="430.00" x2="329.30" y2="430.00" stroke="#000" stroke-width="1.6" />
<line x1="324.10" y1="443.75" x2="324.10" y2="455.50" stroke="#000" stroke-width="1.6" />
<line x1="318.90" y1="455.50" x2="329.30" y2="455.50" stroke="#000" stroke-width="1.6" />
<line x1="353.00" y1="459.50" x2="353.00" y2="449.25" stroke="#000" stroke-width="1.6" />
<line x1="347.80" y1="449.25" x2="358.20" y2="449.25" stroke="#000" stroke-width="1.6" />
<line x1="353.00" y1="459.50" x2="353.00" y2="468.75" stroke="#000" stroke-width="1.6" />
<line x1="347.80" y1="468.75" x2="358.20" y2="468.75" stroke="#000" stroke-width="1.6" />
<line x1="382.30" y1="447.50" x2="382.30" y2="438.00" stroke="#000" stroke-width="1.6" />
<line x1="377.10" y1="438.00" x2="387.50" y2="438.00" stroke="#000" stroke-width="1.6" />
<line x1="382.30" y1="447.50" x2="382.30" y2="457.00" stroke="#000" stroke-width="1.6" />
<line x1="377.10" y1="457.00" x2="387.50" y2="457.00" stroke="#000" stroke-width="1.6" />
<line x1="410.30" y1="430.75" x2="410.30" y2="422.50" stroke="#000" stroke-width="1.6" />
<line x1="405.10" y1="422.50" x2="415.50" y2="422.50" stroke="#000" stroke-width="1.6" />
<line x1="410.30" y1="430.75" x2="410.30" y2="439.25" stroke="#000" stroke-width="1.6" />
<line x1="405.10" y1="439.25" x2="415.50" y2="439.25" stroke="#000" stroke-width="1.6" />
<line x1="439.20" y1="431.80" x2="439.20" y2="425.00" stroke="#000" stroke-width="1.6" />
<line x1="434.00" y1="425.00" x2="444.40" y2="425.00" stroke="#000" stroke-width="1.6" />
<line x1="439.20" y1="431.80" x2="439.20" y2="437.60" stroke="#000" stroke-width="1.6" />
<line x1="434.00" y1="437.60" x2="444.40" y2="437.60" stroke="#000" stroke-width="1.6" />
<line x1="467.30" y1="442.80" x2="467.30" y2="436.30" stroke="#000" stroke-width="1.6" />
<line x1="462.10" y1="436.30" x2="472.50" y2="436.30" stroke="#000" stroke-width="1.6" />
<line x1="467.30" y1="442.80" x2="467.30" y2="451.40" stroke="#000" stroke-width="1.6" />
<line x1="462.10" y1="451.40" x2="472.50" y2="451.40" stroke="#000" stroke-width="1.6" />
<line x1="496.20" y1="442.00" x2="496.20" y2="432.20" stroke="#000" stroke-width="1.6" />
<line x1="491.00" y1="432.20" x2="501.40" y2="432.20" stroke="#000" stroke-width="1.6" />
<line x1="496.20" y1="442.00" x2="496.20" y2="451.50" stroke="#000" stroke-width="1.6" />
<line x1="491.00" y1="451.50" x2="501.40" y2="451.50" stroke="#000" stroke-width="1.6" />
<path d="M178.60 546.75L183.00 542.55L187.40 546.75L183.00 550.95Z" fill="#fff" stroke="#000" stroke-width="1.4" stroke-linejoin="miter"/>
<path d="M207.70 485.00L212.10 480.80L216.50 485.00L212.10 489.20Z" fill="#fff" stroke="#000" stroke-width="1.4" stroke-linejoin="miter"/>
<path d="M235.60 475.75L240.00 471.55L244.40 475.75L240.00 479.95Z" fill="#fff" stroke="#000" stroke-width="1.4" stroke-linejoin="miter"/>
<path d="M263.40 467.00L267.80 462.80L272.20 467.00L267.80 471.20Z" fill="#fff" stroke="#000" stroke-width="1.4" stroke-linejoin="miter"/>
<path d="M292.10 445.20L296.50 441.00L300.90 445.20L296.50 449.40Z" fill="#fff" stroke="#000" stroke-width="1.4" stroke-linejoin="miter"/>
<path d="M319.70 443.75L324.10 439.55L328.50 443.75L324.10 447.95Z" fill="#fff" stroke="#000" stroke-width="1.4" stroke-linejoin="miter"/>
<path d="M348.60 459.50L353.00 455.30L357.40 459.50L353.00 463.70Z" fill="#fff" stroke="#000" stroke-width="1.4" stroke-linejoin="miter"/>
<path d="M377.90 447.50L382.30 443.30L386.70 447.50L382.30 451.70Z" fill="#fff" stroke="#000" stroke-width="1.4" stroke-linejoin="miter"/>
<path d="M405.90 430.75L410.30 426.55L414.70 430.75L410.30 434.95Z" fill="#fff" stroke="#000" stroke-width="1.4" stroke-linejoin="miter"/>
<path d="M434.80 431.80L439.20 427.60L443.60 431.80L439.20 436.00Z" fill="#fff" stroke="#000" stroke-width="1.4" stroke-linejoin="miter"/>
<path d="M462.90 442.80L467.30 438.60L471.70 442.80L467.30 447.00Z" fill="#fff" stroke="#000" stroke-width="1.4" stroke-linejoin="miter"/>
<path d="M491.80 442.00L496.20 437.80L500.60 442.00L496.20 446.20Z" fill="#fff" stroke="#000" stroke-width="1.4" stroke-linejoin="miter"/>
<text x="183.0" y="625.1" text-anchor="middle" font-family='"Liberation Serif", "DejaVu Serif", serif' font-size="20" stroke="#000" stroke-width="0.7" stroke-linejoin="round">*</text>
<text x="212.1" y="626.1" text-anchor="middle" font-family='"Liberation Serif", "DejaVu Serif", serif' font-size="20" stroke="#000" stroke-width="0.7" stroke-linejoin="round">*</text>
<text x="240.0" y="626.9" text-anchor="middle" font-family='"Liberation Serif", "DejaVu Serif", serif' font-size="20" stroke="#000" stroke-width="0.7" stroke-linejoin="round">*</text>
<text x="267.8" y="627.6" text-anchor="middle" font-family='"Liberation Serif", "DejaVu Serif", serif' font-size="20" stroke="#000" stroke-width="0.7" stroke-linejoin="round">*</text>
<text x="296.5" y="628.6" text-anchor="middle" font-family='"Liberation Serif", "DejaVu Serif", serif' font-size="20" stroke="#000" stroke-width="0.7" stroke-linejoin="round">*</text>
<text x="324.1" y="626.4" text-anchor="middle" font-family='"Liberation Serif", "DejaVu Serif", serif' font-size="20" stroke="#000" stroke-width="0.7" stroke-linejoin="round">*</text>
<text x="353.0" y="626.1" text-anchor="middle" font-family='"Liberation Serif", "DejaVu Serif", serif' font-size="20" stroke="#000" stroke-width="0.7" stroke-linejoin="round">*</text>
<text x="382.3" y="625.9" text-anchor="middle" font-family='"Liberation Serif", "DejaVu Serif", serif' font-size="20" stroke="#000" stroke-width="0.7" stroke-linejoin="round">*</text>
<text x="410.3" y="623.8" text-anchor="middle" font-family='"Liberation Serif", "DejaVu Serif", serif' font-size="20" stroke="#000" stroke-width="0.7" stroke-linejoin="round">*</text>
<text x="439.2" y="622.3" text-anchor="middle" font-family='"Liberation Serif", "DejaVu Serif", serif' font-size="20" stroke="#000" stroke-width="0.7" stroke-linejoin="round">*</text>
<text x="467.3" y="619.3" text-anchor="middle" font-family='"Liberation Serif", "DejaVu Serif", serif' font-size="20" stroke="#000" stroke-width="0.7" stroke-linejoin="round">*</text>
<text x="496.2" y="621.8" text-anchor="middle" font-family='"Liberation Serif", "DejaVu Serif", serif' font-size="20" stroke="#000" stroke-width="0.7" stroke-linejoin="round">*</text>
<text transform="translate(212.1,531.0) scale(0.84,1.17)" text-anchor="middle" font-family='"Liberation Serif", "DejaVu Serif", serif' font-size="20" stroke="#000" stroke-width="0.8" vector-effect="non-scaling-stroke" stroke-linejoin="round">‡</text>
<text transform="translate(240.0,521.0) scale(0.84,1.17)" text-anchor="middle" font-family='"Liberation Serif", "DejaVu Serif", serif' font-size="20" stroke="#000" stroke-width="0.8" vector-effect="non-scaling-stroke" stroke-linejoin="round">‡</text>
<text transform="translate(267.8,498.8) scale(0.84,1.17)" text-anchor="middle" font-family='"Liberation Serif", "DejaVu Serif", serif' font-size="20" stroke="#000" stroke-width="0.8" vector-effect="non-scaling-stroke" stroke-linejoin="round">‡</text>
<text transform="translate(296.5,478.8) scale(0.84,1.17)" text-anchor="middle" font-family='"Liberation Serif", "DejaVu Serif", serif' font-size="20" stroke="#000" stroke-width="0.8" vector-effect="non-scaling-stroke" stroke-linejoin="round">‡</text>
<text transform="translate(324.1,476.2) scale(0.84,1.17)" text-anchor="middle" font-family='"Liberation Serif", "DejaVu Serif", serif' font-size="20" stroke="#000" stroke-width="0.8" vector-effect="non-scaling-stroke" stroke-linejoin="round">‡</text>
<text transform="translate(353.0,488.2) scale(0.84,1.17)" text-anchor="middle" font-family='"Liberation Serif", "DejaVu Serif", serif' font-size="20" stroke="#000" stroke-width="0.8" vector-effect="non-scaling-stroke" stroke-linejoin="round">‡</text>
<text transform="translate(382.3,488.5) scale(0.84,1.17)" text-anchor="middle" font-family='"Liberation Serif", "DejaVu Serif", serif' font-size="20" stroke="#000" stroke-width="0.8" vector-effect="non-scaling-stroke" stroke-linejoin="round">‡</text>
<text transform="translate(410.3,483.0) scale(0.84,1.17)" text-anchor="middle" font-family='"Liberation Serif", "DejaVu Serif", serif' font-size="20" stroke="#000" stroke-width="0.8" vector-effect="non-scaling-stroke" stroke-linejoin="round">‡</text>
<text transform="translate(439.2,476.0) scale(0.84,1.17)" text-anchor="middle" font-family='"Liberation Serif", "DejaVu Serif", serif' font-size="20" stroke="#000" stroke-width="0.8" vector-effect="non-scaling-stroke" stroke-linejoin="round">‡</text>
<text transform="translate(467.3,471.2) scale(0.84,1.17)" text-anchor="middle" font-family='"Liberation Serif", "DejaVu Serif", serif' font-size="20" stroke="#000" stroke-width="0.8" vector-effect="non-scaling-stroke" stroke-linejoin="round">‡</text>
<text transform="translate(496.2,477.3) scale(0.84,1.17)" text-anchor="middle" font-family='"Liberation Serif", "DejaVu Serif", serif' font-size="20" stroke="#000" stroke-width="0.8" vector-effect="non-scaling-stroke" stroke-linejoin="round">‡</text>
<text transform="translate(212.1,588.8) scale(0.84,1.17)" text-anchor="middle" font-family='"Liberation Serif", "DejaVu Serif", serif' font-size="20" stroke="#000" stroke-width="0.8" vector-effect="non-scaling-stroke" stroke-linejoin="round">‡</text>
<text transform="translate(240.0,578.8) scale(0.84,1.17)" text-anchor="middle" font-family='"Liberation Serif", "DejaVu Serif", serif' font-size="20" stroke="#000" stroke-width="0.8" vector-effect="non-scaling-stroke" stroke-linejoin="round">‡</text>
<text transform="translate(267.8,571.5) scale(0.84,1.17)" text-anchor="middle" font-family='"Liberation Serif", "DejaVu Serif", serif' font-size="20" stroke="#000" stroke-width="0.8" vector-effect="non-scaling-stroke" stroke-linejoin="round">†</text>
<text transform="translate(296.5,572.5) scale(0.84,1.17)" text-anchor="middle" font-family='"Liberation Serif", "DejaVu Serif", serif' font-size="20" stroke="#000" stroke-width="0.8" vector-effect="non-scaling-stroke" stroke-linejoin="round">†</text>
<text transform="translate(324.1,557.0) scale(0.84,1.17)" text-anchor="middle" font-family='"Liberation Serif", "DejaVu Serif", serif' font-size="20" stroke="#000" stroke-width="0.8" vector-effect="non-scaling-stroke" stroke-linejoin="round">†</text>
<text transform="translate(353.0,559.5) scale(0.84,1.17)" text-anchor="middle" font-family='"Liberation Serif", "DejaVu Serif", serif' font-size="20" stroke="#000" stroke-width="0.8" vector-effect="non-scaling-stroke" stroke-linejoin="round">†</text>
<text transform="translate(382.3,553.8) scale(0.84,1.17)" text-anchor="middle" font-family='"Liberation Serif", "DejaVu Serif", serif' font-size="20" stroke="#000" stroke-width="0.8" vector-effect="non-scaling-stroke" stroke-linejoin="round">‡</text>
<text transform="translate(410.3,553.8) scale(0.84,1.17)" text-anchor="middle" font-family='"Liberation Serif", "DejaVu Serif", serif' font-size="20" stroke="#000" stroke-width="0.8" vector-effect="non-scaling-stroke" stroke-linejoin="round">‡</text>
<text transform="translate(439.2,555.3) scale(0.84,1.17)" text-anchor="middle" font-family='"Liberation Serif", "DejaVu Serif", serif' font-size="20" stroke="#000" stroke-width="0.8" vector-effect="non-scaling-stroke" stroke-linejoin="round">†</text>
<text transform="translate(467.3,555.7) scale(0.84,1.17)" text-anchor="middle" font-family='"Liberation Serif", "DejaVu Serif", serif' font-size="20" stroke="#000" stroke-width="0.8" vector-effect="non-scaling-stroke" stroke-linejoin="round">†</text>
<text transform="translate(496.2,553.2) scale(0.84,1.17)" text-anchor="middle" font-family='"Liberation Serif", "DejaVu Serif", serif' font-size="20" stroke="#000" stroke-width="0.8" vector-effect="non-scaling-stroke" stroke-linejoin="round">†</text>
</svg>
</body></html>
